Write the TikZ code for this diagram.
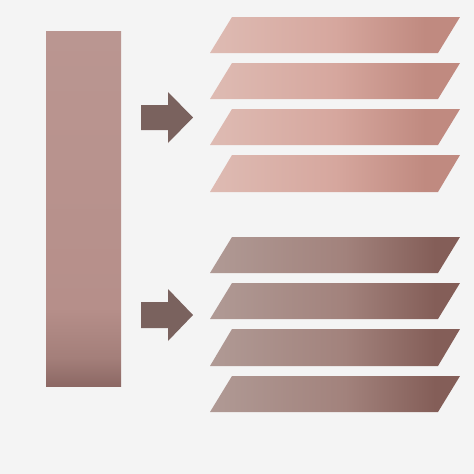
\documentclass[tikz,border=0pt]{standalone}
\usepackage{tikz}

\definecolor{bgcol}{RGB}{244,244,244}
\definecolor{rectTop}{RGB}{186,150,145}
\definecolor{rectMid}{RGB}{182,143,138}
\definecolor{rectLow}{RGB}{164,127,122}
\definecolor{rectBot}{RGB}{140,104,100}
\definecolor{arrowcol}{RGB}{122,98,94}
\definecolor{lightL}{RGB}{222,187,179}
\definecolor{lightM}{RGB}{214,167,158}
\definecolor{lightR}{RGB}{192,138,128}
\definecolor{darkL}{RGB}{176,154,149}
\definecolor{darkM}{RGB}{162,130,124}
\definecolor{darkR}{RGB}{132,94,88}

\pgfdeclareverticalshading{blockshade}{100bp}{color(0bp)=(rectBot); color(25bp)=(rectBot); color(29bp)=(rectLow); color(36bp)=(rectMid); color(75bp)=(rectTop); color(100bp)=(rectTop)}
\pgfdeclarehorizontalshading{lightshade}{100bp}{color(0bp)=(lightL); color(25bp)=(lightL); color(50bp)=(lightM); color(68bp)=(lightR); color(100bp)=(lightR)}
\pgfdeclarehorizontalshading{darkshade}{100bp}{color(0bp)=(darkL); color(25bp)=(darkL); color(52bp)=(darkM); color(70bp)=(darkR); color(100bp)=(darkR)}

\tikzset{
  lightbar/.style={shading=lightshade},
  darkbar/.style={shading=darkshade},
  blockarrow/.style={fill=arrowcol}
}

\begin{document}
\begin{tikzpicture}[x=1pt, y=-1pt]
        % Background
        \fill[bgcol] (0,0) rectangle (474,474);
        \useasboundingbox (0,0) rectangle (474,474);

        % Draw source block
        \shade[shading=blockshade] (46,31) rectangle (121,386);

        % Draw arrows
        \fill[blockarrow] (141,105) -- (168,105) -- (168,92) -- (193,117.5) -- (168,143) -- (168,130) -- (141,130) -- cycle;
        \fill[blockarrow] (141,302) -- (168,302) -- (168,289) -- (193,315) -- (168,341) -- (168,328) -- (141,328) -- cycle;

        % Draw upper bars
        \shade[lightbar] (232,17) -- (460,17) -- (438,53) -- (210,53) -- cycle;
        \shade[lightbar] (232,63) -- (460,63) -- (438,99) -- (210,99) -- cycle;
        \shade[lightbar] (232,109) -- (460,109) -- (438,145) -- (210,145) -- cycle;
        \shade[lightbar] (232,155) -- (460,155) -- (438,192) -- (210,192) -- cycle;

        % Draw lower bars
        \shade[darkbar] (232,237) -- (460,237) -- (438,273) -- (210,273) -- cycle;
        \shade[darkbar] (232,283) -- (460,283) -- (438,319) -- (210,319) -- cycle;
        \shade[darkbar] (232,329) -- (460,329) -- (438,366) -- (210,366) -- cycle;
        \shade[darkbar] (232,376) -- (460,376) -- (438,412) -- (210,412) -- cycle;
    \end{tikzpicture}
\end{document}
